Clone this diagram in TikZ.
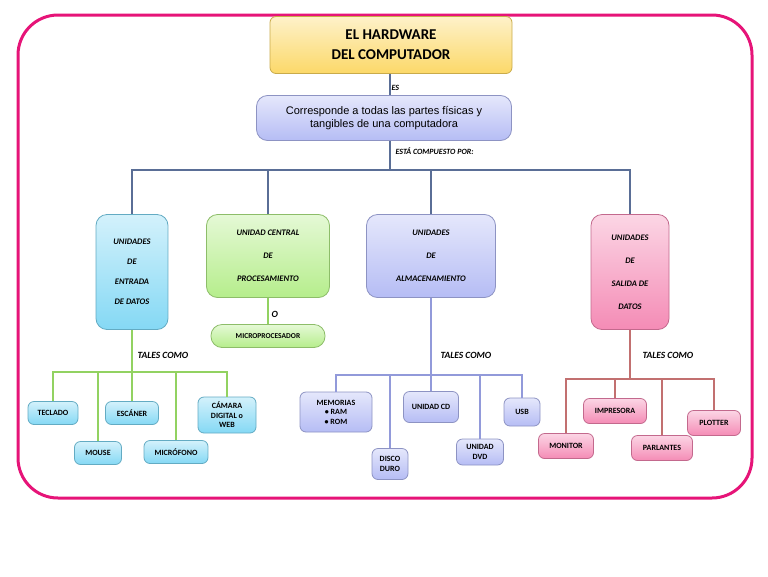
\documentclass[tikz,border=0pt]{standalone}
\usepackage{fontspec}
\setmainfont{Carlito}
\newfontfamily\helv{Liberation Sans}
\begin{document}
\begin{tikzpicture}[x=1pt,y=-1pt]
    \tikzstyle{caja}=[draw=#1!60!gray, rounded corners=6pt, line width=0.8pt,
        top color=#1!25, bottom color=#1!70, align=center, inner sep=1pt,
        font=\fontsize{8}{9.5}\selectfont\bfseries]
    \tikzstyle{unidad}=[caja=#1, rounded corners=11pt]
    \tikzstyle{rotulo}=[font=\fontsize{9.5}{10}\selectfont\bfseries\itshape, anchor=west]
    \tikzstyle{linea}=[line width=2pt]
    \definecolor{rosa}{RGB}{230,20,120}
    \definecolor{cian}{RGB}{80,200,240}
    \definecolor{verde}{RGB}{150,230,90}
    \definecolor{lila}{RGB}{150,160,240}
    \definecolor{fucsia}{RGB}{240,90,150}
    \definecolor{oro}{RGB}{250,200,40}
    \definecolor{pizarra}{RGB}{90,110,150}
    \useasboundingbox (0,0) rectangle (768,576);
    \draw[rosa, line width=3pt, rounded corners=40pt] (18,15) rectangle (752,498);

    % cabecera
    \node[caja=oro, minimum width=242, minimum height=57,
          font=\fontsize{15}{20}\selectfont\bfseries] (hw) at (391,45) {EL HARDWARE\\DEL COMPUTADOR};
    \node[unidad=lila, minimum width=255, minimum height=45,
          font=\helv\fontsize{11}{13}\selectfont] (def) at (384,118)
          {Corresponde a todas las partes físicas y\\tangibles de una computadora};
    \coordinate (bus) at (390,170);
    \draw[linea, pizarra] (hw.south -| bus) -- (def.north -| bus);
    \node[rotulo, font=\fontsize{8}{8}\selectfont\bfseries\itshape] at (388,88) {ES};
    \node[rotulo, font=\fontsize{8}{8}\selectfont\bfseries\itshape] at (392,151) {ESTÁ COMPUESTO POR:};

    % unidades
    \node[unidad=cian, minimum width=72, minimum height=115,
          font=\fontsize{8.5}{20}\selectfont\bfseries\itshape] (ent) at (132,272) {UNIDADES\\DE\\ENTRADA\\DE DATOS};
    \node[unidad=verde, minimum width=123, minimum height=83,
          font=\fontsize{8.5}{23}\selectfont\bfseries\itshape] (cpu) at (268,256) {UNIDAD CENTRAL\\DE\\PROCESAMIENTO};
    \node[unidad=lila, minimum width=129, minimum height=83,
          font=\fontsize{8.5}{23}\selectfont\bfseries\itshape] (alm) at (431,256) {UNIDADES\\DE\\ALMACENAMIENTO};
    \node[unidad=fucsia, minimum width=78, minimum height=115,
          font=\fontsize{8.5}{23}\selectfont\bfseries\itshape] (sal) at (630,272) {UNIDADES\\DE\\SALIDA DE\\DATOS};
    \draw[linea, pizarra] (def.south -| bus) -- (bus);
    \draw[linea, pizarra] (ent.north) |- (bus) -| (sal.north);
    \draw[linea, pizarra] (cpu.north) -- (cpu.north |- bus);
    \draw[linea, pizarra] (alm.north) -- (alm.north |- bus);

    \node[unidad=verde, minimum width=114, minimum height=23, font=\fontsize{7.5}{8}\selectfont\bfseries] (mic) at (268,336) {MICROPROCESADOR};
    \draw[linea, verde!80!gray] (cpu) -- (mic);
    \node[rotulo] at (268,314) {O};

    % entrada
    \begin{scope}[every node/.style={caja=cian, minimum height=23}]
        \node[minimum width=50] (tec) at (53,413) {TECLADO};
        \node[minimum width=47] (mou) at (98,453) {MOUSE};
        \node[minimum width=53] (esc) at (132,413) {ESCÁNER};
        \node[minimum width=64] (mcf) at (176,452) {MICRÓFONO};
        \node[minimum width=58, minimum height=36] (cam) at (227,415) {CÁMARA\\DIGITAL o\\WEB};
    \end{scope}
    \coordinate (bent) at (132,372);
    \draw[linea, verde!80!gray] (ent) -- (bent);
    \draw[linea, verde!80!gray] (tec.north) |- (bent) -| (cam.north);
    \foreach \n in {mou,esc,mcf} \draw[linea, verde!80!gray] (\n.north) -- (\n.north |- bent);
    \node[rotulo] at (134,355) {TALES COMO};

    % almacenamiento
    \begin{scope}[every node/.style={caja=lila, minimum height=26}]
        \node[minimum width=72, minimum height=40] (mem) at (336,412) {MEMORIAS\\\textbullet\ RAM\\\textbullet\ ROM};
        \node[minimum width=36, minimum height=31] (dis) at (390,464) {DISCO\\DURO};
        \node[minimum width=55, minimum height=31] (ucd) at (431,407) {UNIDAD CD};
        \node[minimum width=47] (dvd) at (480,452) {UNIDAD\\DVD};
        \node[minimum width=36, minimum height=28] (usb) at (522,412) {USB};
    \end{scope}
    \coordinate (balm) at (431,375);
    \draw[linea, lila!80!gray] (alm) -- (balm);
    \draw[linea, lila!80!gray] (mem.north) |- (balm) -| (usb.north);
    \foreach \n in {dis,ucd,dvd} \draw[linea, lila!80!gray] (\n.north) -- (\n.north |- balm);
    \node[rotulo] at (437,355) {TALES COMO};

    % salida
    \begin{scope}[every node/.style={caja=fucsia, minimum height=25}]
        \node[minimum width=55] (mon) at (566,446) {MONITOR};
        \node[minimum width=63] (imp) at (615,411) {IMPRESORA};
        \node[minimum width=61] (par) at (662,448) {PARLANTES};
        \node[minimum width=53] (plo) at (714,423) {PLOTTER};
    \end{scope}
    \coordinate (bsal) at (630,379);
    \draw[linea, red!40!gray!80] (sal) -- (bsal);
    \draw[linea, red!40!gray!80] (mon.north) |- (bsal) -| (plo.north);
    \foreach \n in {imp,par} \draw[linea, red!40!gray!80] (\n.north) -- (\n.north |- bsal);
    \node[rotulo] at (639,355) {TALES COMO};
\end{tikzpicture}
\end{document}
